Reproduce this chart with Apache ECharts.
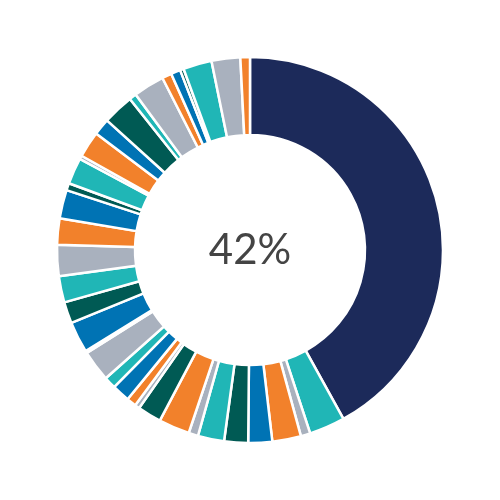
<!DOCTYPE html>
<html><head><meta charset="utf-8">
<script src="https://cdn.jsdelivr.net/npm/echarts@6/dist/echarts.min.js"></script>
<style>body{margin:0}#c{width:500px;height:500px}</style></head>
<body><div id="c"></div>
<script>
// big slice first, then small slices clockwise
const values = [42, 3.0,0.8,2.4,2.0,2.0, 2.2,0.8,2.6,2.0,0.4, 0.8,1.5,1.0,2.6,0.2,
  2.6,1.8,2.2,2.6,2.2, 2.4,0.6,2.2,0.3,2.2, 1.4,2.6,0.6,2.6,0.8, 0.8,0.3,2.4,2.4,0.8];
const colorKeys = ['navy','teal','gray','orange','blue','dg','teal','gray','orange','dg','gray',
  'orange','blue','teal','gray','orange','blue','dg','teal','gray','orange',
  'blue','dg','teal','gray','orange','blue','dg','teal','gray','orange',
  'blue','dg','teal','gray','orange'];
const palette = {navy:'#1c2a5a',teal:'#20b6b6',gray:'#a9b1be',orange:'#f2812b',blue:'#0073b4',dg:'#005a54'};

const chart = echarts.init(document.getElementById('c'));
chart.setOption({
  animation:false,
  graphic:[{type:'text',left:'center',top:'center',style:{text:'42%',fontSize:42,fill:'#444',fontFamily:'Lato'}}],
  series:[{
    type:'pie', radius:[115,193], center:[250,250], startAngle:90, clockwise:true,
    label:{show:false}, labelLine:{show:false},
    itemStyle:{borderColor:'#fff',borderWidth:2.5},
    data: values.map((v,i)=>({value:v,itemStyle:{color:palette[colorKeys[i]]}}))
  }]
});
</script></body></html>
